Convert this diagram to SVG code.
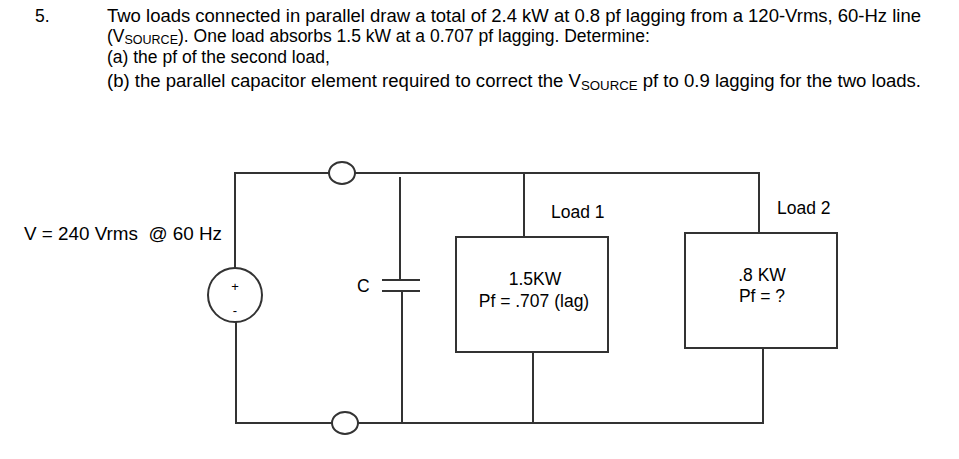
<svg xmlns="http://www.w3.org/2000/svg" width="959" height="459" viewBox="0 0 959 459">
<style>
text{font-family:"Liberation Sans",Arial,sans-serif;fill:#000}
.q{font-size:17.5px}
.l{font-size:17.5px}
.w{stroke:#333;stroke-width:2;fill:none}
.sub{font-size:12.5px}
</style>
<rect width="959" height="459" fill="#fff"/>
<g id="question">
<text class="q" x="35" y="22">5.</text>
<text class="q" x="107" y="22" textLength="814" lengthAdjust="spacingAndGlyphs">Two loads connected in parallel draw a total of 2.4 kW at 0.8 pf lagging from a 120-Vrms, 60-Hz line</text>
<text class="q" x="107" y="42">(V<tspan class="sub" dy="2">SOURCE</tspan><tspan dy="-2">). One load absorbs 1.5 kW at a 0.707 pf lagging. Determine:</tspan></text>
<text class="q" x="107" y="63">(a) the pf of the second load,</text>
<text class="q" x="107" y="87" textLength="814" lengthAdjust="spacingAndGlyphs">(b) the parallel capacitor element required to correct the V<tspan class="sub" dy="3">SOURCE</tspan><tspan dy="-3"> pf to 0.9 lagging for the two loads.</tspan></text>
</g>
<g id="connectors" class="w">
<polyline points="235,269 235,173 329,173"/>
<polyline points="355,173 759,173 759,232"/>
<line x1="524" y1="173" x2="524" y2="237"/>
<polyline points="236,322 236,423 332,423"/>
<polyline points="358,423 763,423 763,348"/>
<line x1="533" y1="352" x2="533" y2="423"/>
<line x1="400" y1="177" x2="400" y2="280"/>
<line x1="402" y1="291" x2="402" y2="423"/>
</g>
<g id="source">
<circle cx="235" cy="295" r="27" class="w"/>
<text x="235" y="291" font-size="13" text-anchor="middle">+</text>
<text x="235" y="315" font-size="13" text-anchor="middle">-</text>
<text class="l" x="24" y="240" xml:space="preserve" textLength="198" lengthAdjust="spacingAndGlyphs">V = 240 Vrms  @ 60 Hz</text>
</g>
<g id="terminals" class="w">
<ellipse cx="342" cy="173" rx="13" ry="11"/>
<ellipse cx="345" cy="423" rx="13" ry="11"/>
</g>
<g id="capacitor">
<line x1="382" y1="280" x2="420" y2="280" class="w"/>
<line x1="382" y1="291" x2="420" y2="291" class="w"/>
<text class="l" x="357" y="292">C</text>
</g>
<g id="load1">
<rect x="456" y="237" width="152" height="115" class="w"/>
<text class="l" x="551" y="218">Load 1</text>
<text class="l" x="535" y="285" text-anchor="middle">1.5KW</text>
<text class="l" x="534" y="307" text-anchor="middle">Pf = .707 (lag)</text>
</g>
<g id="load2">
<rect x="685" y="233" width="152" height="115" class="w"/>
<text class="l" x="777" y="214">Load 2</text>
<text class="l" x="762" y="281" text-anchor="middle">.8 KW</text>
<text class="l" x="762" y="302" text-anchor="middle">Pf = ?</text>
</g>
</svg>
